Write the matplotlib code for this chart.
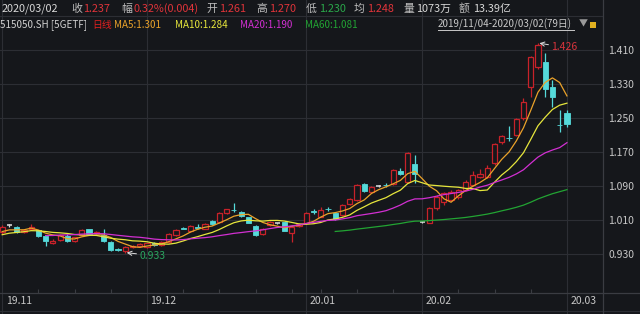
import numpy as np
import pandas as pd
import matplotlib.pyplot as plt
from matplotlib.lines import Line2D
from matplotlib.patches import Rectangle

# ====== DATA (515050.SH 5GETF, daily, 2019/11/04 - 2020/03/02) ======
opens = [0.981, 0.998, 0.994, 0.982, 0.990, 0.986, 0.972, 0.957, 0.963, 0.972,
         0.960, 0.975, 0.988, 0.979, 0.975, 0.959, 0.942, 0.937, 0.946, 0.949,
         0.947, 0.956, 0.952, 0.959, 0.975, 0.991, 0.983, 0.993, 0.990, 1.008,
         1.006, 1.027, 1.034, 1.030, 1.016, 0.996, 0.977, 0.998, 1.002, 1.006,
         0.979, 0.995, 1.002, 1.031, 1.018, 1.036, 1.027, 1.022, 1.048, 1.057,
         1.095, 1.077, 1.090, 1.093, 1.095, 1.126, 1.100, 1.141, 1.006, 1.004,
         1.038, 1.053, 1.058, 1.063, 1.081, 1.092, 1.112, 1.112, 1.143, 1.194,
         1.203, 1.210, 1.249, 1.324, 1.369, 1.381, 1.324, 1.234, 1.261]
highs = [0.998, 1.000, 0.996, 0.988, 1.000, 0.987, 0.973, 0.965, 0.977, 0.976,
         0.971, 0.988, 0.990, 0.983, 0.988, 0.960, 0.944, 0.948, 0.952, 0.955,
         0.957, 0.958, 0.960, 0.979, 0.988, 0.993, 0.999, 1.000, 1.003, 1.010,
         1.028, 1.037, 1.049, 1.031, 1.018, 0.998, 0.992, 1.008, 1.004, 1.008,
         0.996, 1.002, 1.028, 1.037, 1.041, 1.040, 1.029, 1.047, 1.061, 1.094,
         1.097, 1.090, 1.092, 1.097, 1.130, 1.133, 1.170, 1.163, 1.008, 1.040,
         1.068, 1.076, 1.080, 1.084, 1.103, 1.125, 1.130, 1.140, 1.192, 1.210,
         1.232, 1.250, 1.296, 1.396, 1.426, 1.404, 1.339, 1.269, 1.270]
lows = [0.978, 0.994, 0.980, 0.980, 0.988, 0.970, 0.949, 0.953, 0.961, 0.958,
        0.958, 0.974, 0.975, 0.977, 0.959, 0.937, 0.937, 0.933, 0.944, 0.947,
        0.945, 0.950, 0.950, 0.957, 0.973, 0.988, 0.981, 0.989, 0.988, 0.998,
        1.004, 1.025, 1.030, 1.017, 1.002, 0.973, 0.975, 0.996, 1.000, 0.983,
        0.959, 0.993, 1.000, 1.024, 1.016, 1.031, 1.010, 1.020, 1.046, 1.055,
        1.076, 1.075, 1.088, 1.088, 1.093, 1.116, 1.098, 1.096, 1.004, 1.002,
        1.034, 1.045, 1.055, 1.060, 1.078, 1.090, 1.110, 1.110, 1.140, 1.190,
        1.196, 1.207, 1.246, 1.300, 1.366, 1.300, 1.277, 1.218, 1.230]
closes = [0.994, 0.998, 0.982, 0.986, 0.994, 0.972, 0.961, 0.961, 0.975, 0.960,
          0.970, 0.986, 0.977, 0.981, 0.961, 0.939, 0.940, 0.946, 0.950, 0.953,
          0.955, 0.952, 0.958, 0.977, 0.986, 0.990, 0.997, 0.991, 1.001, 1.000,
          1.026, 1.035, 1.033, 1.019, 1.004, 0.975, 0.990, 1.006, 1.002, 0.985,
          0.994, 1.000, 1.026, 1.030, 1.034, 1.035, 1.012, 1.045, 1.059, 1.092,
          1.078, 1.088, 1.090, 1.092, 1.128, 1.118, 1.167, 1.118, 1.006, 1.038,
          1.065, 1.073, 1.077, 1.081, 1.100, 1.116, 1.118, 1.132, 1.190, 1.208,
          1.202, 1.247, 1.288, 1.394, 1.422, 1.318, 1.300, 1.233, 1.237]
# closes before the window (needed for the moving averages)
prior_closes = [0.960, 0.955, 0.950, 0.958, 0.962, 0.965, 0.968, 0.970,
                0.975, 0.978, 0.982, 0.985, 0.975]

month_pos = [0, 20, 42, 58, 78]
month_labels = ['19.11', '19.12', '20.01', '20.02', '20.03']
week_pos = [5, 10, 15, 25, 30, 35, 40, 44, 49, 54, 63, 68, 73]
price_ticks = [0.930, 1.010, 1.090, 1.170, 1.250, 1.330, 1.410]

# ====== STYLE ======
BG = '#15171b'
GRID = '#2c2e34'
RED = '#c8222a'
CYAN = '#55dada'
FLAT = '#e0e0e0'
TXT = '#c8c8c8'
FONT = ['Noto Sans CJK SC', 'DejaVu Sans']
plt.rcParams['font.family'] = FONT

W, H = 640, 314
fig = plt.figure(figsize=(W / 100, H / 100), dpi=100, facecolor=BG)
ax = fig.add_axes([0, 0, 603 / W, 1], facecolor=BG)

# pixel mapping -> data limits
y_top = 1.410 + 50 / 425
y_bot = 1.410 - (H - 50) / 425
ax.set_ylim(y_bot, y_top)
ax.set_xlim((0 - 2.2) / 7.24, (603 - 2.2) / 7.24)

# ====== GRID / FRAME ======
for v in price_ticks + [1.490]:
    ax.axhline(v, color=GRID, lw=0.8, zorder=0)
for m in month_pos:
    ax.axvline(m, color=GRID, lw=0.8, zorder=0)
v_axis = 1.410 - (293 - 50) / 425
v_foot = 1.410 - (310.5 - 50) / 425
ax.axhline(v_axis, xmax=W / 603, color='#3a3c42', lw=0.9, clip_on=False, zorder=1)
ax.axhline(v_foot, xmax=W / 603, color=GRID, lw=0.8, clip_on=False, zorder=1)
ax.vlines(week_pos, v_axis, v_axis + 4 / 425, color='#3a3c42', lw=0.8)

for s in ['top', 'left', 'bottom']:
    ax.spines[s].set_visible(False)
ax.spines['right'].set_color('#3a3c42')
ax.spines['right'].set_linewidth(0.9)

ax.yaxis.tick_right()
ax.set_yticks(price_ticks)
ax.set_yticklabels([f'{v:.3f}' for v in price_ticks])
ax.tick_params(axis='y', length=0, pad=4, labelsize=7.5, labelcolor=TXT)
ax.set_xticks([])

v_lab = 1.410 - (301 - 50) / 425
for m, lab in zip(month_pos, month_labels):
    ax.annotate(lab, (m, v_lab), xytext=(2.5, 0), textcoords='offset points',
                color=TXT, fontsize=7.5, va='center', ha='left')

# ====== CANDLES ======
o = np.array(opens); h = np.array(highs); l = np.array(lows); c = np.array(closes)
x = np.arange(len(c))
top = np.maximum(o, c)
bot = np.minimum(o, c)
up = c > o
dn = c < o
fl = c == o
col = np.where(up, RED, np.where(dn, CYAN, FLAT))

ax.vlines(x, top, h, colors=col, lw=0.9, zorder=2)
ax.vlines(x, l, bot, colors=col, lw=0.9, zorder=2)
bw = 0.72
ax.bar(x[up], (c - o)[up], bottom=o[up], width=bw, facecolor=BG,
       edgecolor=RED, lw=0.9, zorder=2)
ax.bar(x[dn], (c - o)[dn], bottom=o[dn], width=bw, facecolor=CYAN,
       edgecolor=CYAN, lw=0.6, zorder=2)
ax.hlines(c[fl], x[fl] - bw / 2, x[fl] + bw / 2, colors=FLAT, lw=1.1, zorder=2)

# ====== MOVING AVERAGES ======
allc = pd.Series(prior_closes + closes)
n0 = len(prior_closes)
ma_style = [(5, '#eaa22a'), (10, '#e6e63c'), (20, '#d22fd2'), (60, '#22a433')]
for n, colr in ma_style:
    ma = allc.rolling(n).mean().values[n0:]
    ax.plot(x, ma, color=colr, lw=0.9, zorder=3)

# ====== HIGH / LOW MARKS ======
ih = int(np.argmax(h)); il = int(np.argmin(l))
ax.annotate(f'{h[ih]:.3f}', xy=(ih + 0.2, h[ih]), xytext=(8.5, -3),
            textcoords='offset points', color='#d8343c', fontsize=7.5,
            va='center', ha='left',
            arrowprops=dict(arrowstyle='->', color='#dddddd', lw=0.7,
                            shrinkA=0, shrinkB=0))
ax.annotate(f'{l[il]:.3f}', xy=(il + 0.2, l[il]), xytext=(9, -2),
            textcoords='offset points', color='#2aa660', fontsize=7.5,
            va='center', ha='left',
            arrowprops=dict(arrowstyle='->', color='#dddddd', lw=0.7,
                            shrinkA=0, shrinkB=0))

# ====== HEADER ======
def put(xpx, ypx, s, color, size=7.8):
    fig.text(xpx / W, 1 - ypx / H, s, color=color, fontsize=size,
             ha='left', va='center', family=FONT)

GRAYT = '#bdbdbd'
RTX = '#e0343a'
row1 = [(2, '2020/03/02', '#d8d8d8'), (71, '收', GRAYT), (83, '1.237', RTX),
        (121, '幅', GRAYT), (133, '0.32%(0.004)', RTX), (206, '开', GRAYT),
        (219, '1.261', RTX), (256, '高', GRAYT), (269, '1.270', RTX),
        (306, '低', GRAYT), (319, '1.230', '#2aa84a'), (354, '均', GRAYT),
        (367, '1.248', RTX), (404, '量', GRAYT), (416, '1073万', '#d8d8d8'),
        (459, '额', GRAYT), (473, '13.39亿', '#d8d8d8')]
for xp, s, cc in row1:
    put(xp, 9, s, cc)

row2 = [(0, '515050.SH [5GETF]', '#d0d0d0'), (92, '日线', '#e02020'),
        (114, 'MA5:1.301', '#eaa22a'), (175, 'MA10:1.284', '#e6e63c'),
        (240, 'MA20:1.190', '#d22fd2'), (305, 'MA60:1.081', '#22a433')]
for xp, s, cc in row2:
    put(xp, 25, s, cc, 7.1)

put(438, 24, '2019/11/04-2020/03/02(79日)', '#c8c8c8', 7.1)
fig.add_artist(Line2D([438 / W, 574 / W], [1 - 30 / H, 1 - 30 / H],
                      color='#c8c8c8', lw=0.7))
put(579, 24, '▼', '#9a9a9a', 6.5)
fig.add_artist(Rectangle((590 / W, 1 - 28 / H), 6 / W, 6 / H,
                         facecolor='#e0b020', edgecolor='none'))

fig.savefig('out.png', dpi=100, facecolor=BG)
